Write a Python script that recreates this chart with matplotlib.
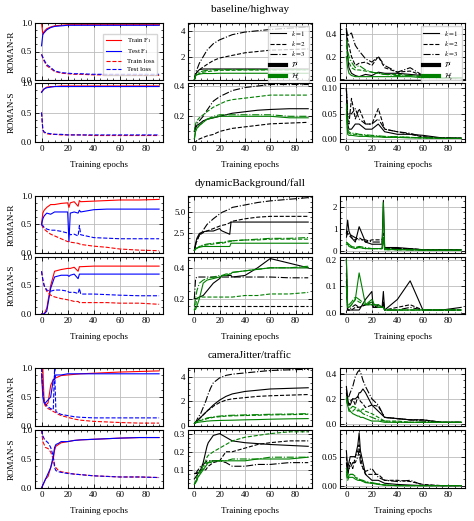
import matplotlib
matplotlib.use("Agg")
import matplotlib.pyplot as plt
from matplotlib.lines import Line2D
from matplotlib.ticker import AutoMinorLocator

plt.rcParams["font.family"] = ["Liberation Serif", "DejaVu Serif"]
plt.rcParams["mathtext.fontset"] = "stix"
plt.rcParams["font.size"] = 6.5

# ---------------- data: baseline/highway ----------------
hw_epochs = [0, 1, 2, 4, 7, 10, 15, 20, 25, 30, 40, 50, 60, 75, 90]
hw_r_f1 = [
    [1.0, 0.8, 0.85, 0.9, 0.93, 0.95, 0.96, 0.97, 0.97, 0.97, 0.97, 0.97, 0.97, 0.97, 0.97],
    [0.6, 0.8, 0.83, 0.88, 0.92, 0.94, 0.95, 0.96, 0.96, 0.96, 0.96, 0.96, 0.96, 0.96, 0.96],
    [0.45, 0.38, 0.33, 0.25, 0.2, 0.15, 0.12, 0.11, 0.1, 0.1, 0.09, 0.09, 0.09, 0.08, 0.08],
    [0.45, 0.4, 0.35, 0.27, 0.22, 0.16, 0.13, 0.12, 0.11, 0.11, 0.1, 0.1, 0.1, 0.1, 0.1],
]
hw_s_f1 = [
    [0.85, 0.88, 0.9, 0.93, 0.94, 0.94, 0.95, 0.95, 0.95, 0.95, 0.95, 0.95, 0.95, 0.95, 0.95],
    [0.84, 0.87, 0.9, 0.92, 0.93, 0.94, 0.94, 0.94, 0.94, 0.94, 0.94, 0.94, 0.94, 0.94, 0.94],
    [0.5, 0.2, 0.16, 0.14, 0.13, 0.13, 0.12, 0.12, 0.12, 0.12, 0.11, 0.11, 0.11, 0.11, 0.11],
    [0.5, 0.21, 0.17, 0.15, 0.14, 0.13, 0.13, 0.12, 0.12, 0.12, 0.12, 0.12, 0.12, 0.12, 0.12],
]
hw_r_mid = [
    [0.2, 0.6, 0.8, 1.0, 1.05, 1.05, 1.05, 1.05, 1.05, 1.05, 1.05, 1.05, 1.05, 1.05, 1.05],
    [0.2, 0.6, 0.8, 1.0, 1.2, 1.4, 1.7, 1.9, 2.0, 2.1, 2.3, 2.4, 2.5, 2.55, 2.6],
    [0.2, 0.8, 1.0, 1.5, 2.0, 2.5, 3.0, 3.3, 3.5, 3.7, 3.9, 4.0, 4.1, 4.2, 4.3],
    [0.2, 0.5, 0.6, 0.65, 0.7, 0.7, 0.7, 0.72, 0.72, 0.72, 0.72, 0.72, 0.72, 0.72, 0.72],
    [0.2, 0.5, 0.6, 0.7, 0.8, 0.85, 0.9, 0.95, 0.95, 0.95, 0.97, 0.97, 0.98, 0.98, 0.98],
    [0.2, 0.6, 0.7, 0.8, 0.9, 0.95, 1.0, 1.0, 1.0, 1.0, 1.0, 1.0, 1.0, 1.0, 1.0],
]
hw_s_mid = [
    [0.1, 0.12, 0.14, 0.15, 0.17, 0.18, 0.19, 0.2, 0.21, 0.22, 0.23, 0.24, 0.245, 0.25, 0.25],
    [0.02, 0.03, 0.04, 0.05, 0.06, 0.07, 0.08, 0.1, 0.11, 0.12, 0.13, 0.14, 0.15, 0.155, 0.16],
    [0.1, 0.14, 0.15, 0.17, 0.2, 0.24, 0.3, 0.33, 0.35, 0.37, 0.39, 0.4, 0.41, 0.41, 0.41],
    [0.05, 0.1, 0.12, 0.14, 0.16, 0.18, 0.19, 0.2, 0.2, 0.2, 0.2, 0.2, 0.2, 0.19, 0.19],
    [0.1, 0.15, 0.17, 0.19, 0.21, 0.23, 0.26, 0.28, 0.3, 0.31, 0.32, 0.33, 0.34, 0.34, 0.34],
    [0.05, 0.1, 0.12, 0.14, 0.16, 0.18, 0.2, 0.21, 0.21, 0.21, 0.21, 0.21, 0.21, 0.2, 0.2],
]
hw_r_right = [
    [0.45, 0.2, 0.1, 0.05, 0.03, 0.02, 0.04, 0.03, 0.06, 0.05, 0.05, 0.04, 0.03, 0.01, 0.01],
    [0.42, 0.35, 0.3, 0.2, 0.12, 0.14, 0.15, 0.12, 0.2, 0.1, 0.06, 0.07, 0.03, 0.01, 0.01],
    [0.45, 0.38, 0.4, 0.41, 0.3, 0.25, 0.18, 0.15, 0.2, 0.12, 0.06, 0.1, 0.03, 0.01, 0.01],
    [0.2, 0.1, 0.05, 0.03, 0.02, 0.02, 0.02, 0.02, 0.02, 0.02, 0.02, 0.02, 0.01, 0.01, 0.01],
    [0.3, 0.2, 0.15, 0.1, 0.08, 0.08, 0.07, 0.06, 0.05, 0.04, 0.04, 0.03, 0.02, 0.01, 0.01],
    [0.35, 0.25, 0.2, 0.15, 0.1, 0.12, 0.08, 0.06, 0.05, 0.04, 0.03, 0.03, 0.02, 0.01, 0.01],
]
hw_s_right = [
    [0.1, 0.03, 0.02, 0.02, 0.03, 0.03, 0.02, 0.02, 0.03, 0.015, 0.01, 0.01, 0.008, 0.003, 0.003],
    [0.1, 0.04, 0.03, 0.08, 0.04, 0.06, 0.03, 0.03, 0.06, 0.02, 0.015, 0.01, 0.005, 0.003, 0.002],
    [0.1, 0.04, 0.05, 0.05, 0.06, 0.04, 0.03, 0.03, 0.04, 0.02, 0.015, 0.012, 0.005, 0.003, 0.002],
    [0.05, 0.01, 0.008, 0.008, 0.007, 0.006, 0.006, 0.005, 0.005, 0.004, 0.004, 0.003, 0.003, 0.002, 0.002],
    [0.06, 0.015, 0.012, 0.01, 0.01, 0.009, 0.008, 0.007, 0.006, 0.005, 0.005, 0.004, 0.003, 0.002, 0.002],
    [0.07, 0.02, 0.015, 0.012, 0.012, 0.01, 0.009, 0.008, 0.007, 0.006, 0.005, 0.004, 0.003, 0.002, 0.002],
]

# ---------------- data: dynamicBackground/fall ----------------
fa_epochs = [0, 1, 2, 4, 7, 10, 15, 20, 21, 22, 25, 28, 29, 30, 40, 50, 60, 75, 90]
fa_r_f1 = [
    [0.5, 0.7, 0.75, 0.8, 0.85, 0.85, 0.87, 0.88, 0.8, 0.88, 0.9, 0.82, 0.92, 0.9, 0.91, 0.92, 0.93, 0.93, 0.94],
    [0.5, 0.6, 0.65, 0.7, 0.68, 0.72, 0.72, 0.72, 0.2, 0.7, 0.72, 0.7, 0.75, 0.72, 0.76, 0.77, 0.77, 0.77, 0.77],
    [0.5, 0.45, 0.42, 0.38, 0.33, 0.3, 0.25, 0.2, 0.2, 0.19, 0.18, 0.17, 0.16, 0.15, 0.12, 0.1, 0.07, 0.05, 0.04],
    [0.5, 0.48, 0.45, 0.42, 0.4, 0.4, 0.38, 0.35, 0.35, 0.32, 0.33, 0.3, 0.48, 0.32, 0.27, 0.26, 0.25, 0.25, 0.25],
]
fa_s_f1 = [
    [0.0, 0.0, 0.0, 0.1, 0.5, 0.75, 0.78, 0.8, 0.8, 0.8, 0.82, 0.75, 0.83, 0.83, 0.84, 0.84, 0.84, 0.84, 0.84],
    [0.0, 0.0, 0.0, 0.05, 0.45, 0.65, 0.68, 0.68, 0.66, 0.68, 0.7, 0.62, 0.7, 0.7, 0.7, 0.7, 0.7, 0.7, 0.7],
    [0.75, 0.6, 0.5, 0.4, 0.33, 0.3, 0.27, 0.25, 0.24, 0.24, 0.22, 0.22, 0.2, 0.2, 0.2, 0.2, 0.19, 0.19, 0.17],
    [0.75, 0.6, 0.5, 0.42, 0.4, 0.42, 0.42, 0.4, 0.38, 0.38, 0.38, 0.36, 0.45, 0.35, 0.35, 0.34, 0.33, 0.32, 0.32],
]
fa_r_mid = [
    [0.3, 1.2, 1.8, 2.4, 2.6, 2.7, 2.7, 3.0, 2.8, 2.7, 2.5, 2.3, 3.8, 3.8, 3.8, 3.8, 3.8, 3.8, 3.8],
    [0.3, 1.0, 1.5, 2.2, 2.5, 2.7, 3.0, 3.3, 3.4, 3.4, 3.5, 3.7, 3.8, 3.9, 4.2, 4.4, 4.5, 4.5, 4.5],
    [0.3, 1.0, 1.5, 2.2, 2.8, 3.5, 4.2, 4.8, 4.9, 5.0, 5.2, 5.4, 5.5, 5.6, 5.9, 6.2, 6.4, 6.6, 6.8],
    [0.3, 0.5, 0.6, 0.7, 0.8, 0.8, 0.8, 0.8, 0.8, 0.8, 0.8, 0.8, 1.2, 1.2, 1.2, 1.2, 1.2, 1.2, 1.2],
    [0.3, 0.5, 0.6, 0.8, 0.9, 1.0, 1.1, 1.2, 1.2, 1.2, 1.3, 1.4, 1.4, 1.5, 1.6, 1.6, 1.7, 1.7, 1.7],
    [0.3, 0.5, 0.6, 0.8, 1.0, 1.1, 1.2, 1.3, 1.3, 1.3, 1.4, 1.5, 1.5, 1.5, 1.6, 1.7, 1.8, 1.8, 1.9],
]
fa_s_mid = [
    [0.2, 0.2, 0.2, 0.21, 0.22, 0.25, 0.3, 0.33, 0.34, 0.35, 0.35, 0.35, 0.35, 0.34, 0.35, 0.4, 0.46, 0.43, 0.4],
    [0.15, 0.15, 0.15, 0.15, 0.15, 0.15, 0.15, 0.15, 0.15, 0.15, 0.15, 0.15, 0.15, 0.15, 0.15, 0.15, 0.15, 0.15, 0.15],
    [0.2, 0.33, 0.34, 0.34, 0.34, 0.34, 0.34, 0.34, 0.34, 0.34, 0.34, 0.34, 0.34, 0.34, 0.34, 0.34, 0.34, 0.335, 0.335],
    [0.13, 0.13, 0.15, 0.2, 0.3, 0.32, 0.33, 0.34, 0.34, 0.35, 0.35, 0.36, 0.36, 0.37, 0.38, 0.39, 0.4, 0.4, 0.4],
    [0.12, 0.15, 0.2, 0.21, 0.21, 0.21, 0.21, 0.21, 0.21, 0.21, 0.21, 0.21, 0.21, 0.21, 0.22, 0.22, 0.23, 0.23, 0.24],
    [0.15, 0.2, 0.25, 0.3, 0.32, 0.33, 0.34, 0.35, 0.35, 0.35, 0.36, 0.36, 0.37, 0.37, 0.38, 0.39, 0.4, 0.4, 0.41],
]
fa_r_right = [
    [0.8, 1.4, 0.9, 0.6, 0.4, 1.1, 0.4, 0.3, 0.3, 0.3, 0.3, 0.3, 2.3, 0.15, 0.15, 0.1, 0.05, 0.05, 0.05],
    [0.7, 0.8, 0.7, 0.6, 0.5, 0.6, 0.4, 0.5, 0.5, 0.5, 0.5, 0.5, 0.8, 0.1, 0.1, 0.1, 0.05, 0.05, 0.05],
    [0.6, 0.9, 0.8, 0.7, 0.6, 0.5, 0.5, 0.4, 0.4, 0.4, 0.4, 0.4, 0.6, 0.1, 0.1, 0.05, 0.05, 0.05, 0.05],
    [0.3, 0.3, 0.2, 0.15, 0.1, 0.15, 0.1, 0.1, 0.1, 0.1, 0.1, 0.1, 2.2, 0.1, 0.05, 0.05, 0.03, 0.03, 0.03],
    [0.4, 0.3, 0.25, 0.2, 0.15, 0.15, 0.1, 0.1, 0.1, 0.1, 0.1, 0.1, 0.5, 0.05, 0.05, 0.04, 0.03, 0.03, 0.03],
    [0.4, 0.35, 0.3, 0.2, 0.15, 0.2, 0.15, 0.1, 0.1, 0.1, 0.1, 0.1, 0.6, 0.05, 0.05, 0.04, 0.03, 0.03, 0.03],
]
fa_s_right = [
    [0.2, 0.01, 0.01, 0.01, 0.01, 0.01, 0.05, 0.08, 0.02, 0.02, 0.03, 0.02, 0.08, 0.01, 0.05, 0.12, 0.01, 0.01, 0.02],
    [0.15, 0.01, 0.01, 0.01, 0.02, 0.02, 0.03, 0.04, 0.02, 0.02, 0.02, 0.02, 0.04, 0.01, 0.02, 0.03, 0.01, 0.01, 0.01],
    [0.12, 0.01, 0.01, 0.02, 0.03, 0.02, 0.03, 0.03, 0.02, 0.02, 0.02, 0.02, 0.03, 0.01, 0.01, 0.02, 0.01, 0.01, 0.01],
    [0.2, 0.02, 0.02, 0.03, 0.05, 0.15, 0.03, 0.05, 0.04, 0.03, 0.03, 0.02, 0.02, 0.01, 0.01, 0.01, 0.01, 0.01, 0.01],
    [0.1, 0.02, 0.02, 0.03, 0.05, 0.04, 0.03, 0.04, 0.03, 0.03, 0.02, 0.02, 0.02, 0.01, 0.01, 0.01, 0.01, 0.01, 0.01],
    [0.1, 0.02, 0.03, 0.04, 0.06, 0.05, 0.03, 0.03, 0.03, 0.03, 0.02, 0.02, 0.02, 0.01, 0.01, 0.01, 0.01, 0.01, 0.01],
]

# ---------------- data: cameraJitter/traffic ----------------
tr_epochs = [0, 1, 2, 3, 5, 7, 9, 10, 11, 13, 15, 20, 25, 30, 40, 50, 60, 75, 90]
tr_r_f1 = [
    [1.0, 1.0, 0.4, 0.35, 0.4, 0.7, 0.8, 0.82, 0.83, 0.85, 0.87, 0.88, 0.89, 0.9, 0.91, 0.92, 0.93, 0.94, 0.95],
    [0.9, 0.5, 0.4, 0.4, 0.45, 0.5, 0.8, 0.8, 0.88, 0.88, 0.88, 0.9, 0.9, 0.9, 0.9, 0.9, 0.9, 0.9, 0.9],
    [1.0, 0.6, 0.4, 0.35, 0.3, 0.28, 0.25, 0.24, 0.23, 0.2, 0.18, 0.15, 0.12, 0.1, 0.08, 0.07, 0.06, 0.05, 0.05],
    [1.0, 0.6, 0.4, 0.38, 0.33, 0.3, 0.28, 1.0, 0.25, 0.22, 0.2, 0.18, 0.16, 0.15, 0.14, 0.14, 0.14, 0.14, 0.14],
]
tr_s_f1 = [
    [0.0, 0.05, 0.1, 0.15, 0.2, 0.35, 0.5, 0.65, 0.72, 0.75, 0.78, 0.8, 0.82, 0.83, 0.84, 0.85, 0.86, 0.87, 0.87],
    [0.0, 0.05, 0.1, 0.15, 0.25, 0.35, 0.55, 0.7, 0.75, 0.77, 0.8, 0.8, 0.82, 0.83, 0.84, 0.85, 0.86, 0.87, 0.87],
    [1.0, 0.8, 0.75, 0.7, 0.68, 0.62, 0.5, 0.4, 0.35, 0.3, 0.28, 0.26, 0.24, 0.23, 0.21, 0.2, 0.19, 0.19, 0.18],
    [1.0, 0.9, 0.85, 0.82, 0.78, 0.7, 0.55, 0.35, 0.3, 0.28, 0.27, 0.25, 0.24, 0.23, 0.21, 0.2, 0.19, 0.19, 0.18],
]
tr_r_mid = [
    [0.2, 0.3, 0.4, 0.5, 0.7, 0.9, 1.1, 1.2, 1.3, 1.5, 1.7, 2.1, 2.4, 2.6, 2.8, 2.9, 3.0, 3.05, 3.1],
    [0.2, 0.3, 0.4, 0.5, 0.7, 0.9, 1.1, 1.2, 1.3, 1.4, 1.6, 1.9, 2.1, 2.2, 2.3, 2.4, 2.45, 2.5, 2.55],
    [0.2, 0.3, 0.5, 0.7, 1.0, 1.5, 2.0, 2.3, 2.6, 3.1, 3.5, 3.9, 4.1, 4.2, 4.3, 4.4, 4.5, 4.55, 4.6],
    [0.2, 0.25, 0.28, 0.3, 0.33, 0.35, 0.38, 0.4, 0.4, 0.42, 0.43, 0.45, 0.46, 0.47, 0.5, 0.52, 0.55, 0.58, 0.6],
    [0.2, 0.3, 0.35, 0.4, 0.45, 0.5, 0.55, 0.6, 0.62, 0.65, 0.7, 0.75, 0.8, 0.82, 0.85, 0.87, 0.9, 0.92, 0.95],
    [0.2, 0.3, 0.35, 0.4, 0.5, 0.55, 0.6, 0.65, 0.67, 0.7, 0.75, 0.8, 0.85, 0.87, 0.9, 0.92, 0.95, 0.97, 1.0],
]
tr_s_mid = [
    [0.05, 0.06, 0.07, 0.08, 0.1, 0.14, 0.2, 0.23, 0.25, 0.27, 0.29, 0.3, 0.28, 0.26, 0.25, 0.245, 0.24, 0.235, 0.23],
    [0.08, 0.08, 0.08, 0.09, 0.1, 0.1, 0.1, 0.11, 0.12, 0.13, 0.14, 0.15, 0.2, 0.2, 0.22, 0.24, 0.25, 0.26, 0.26],
    [0.08, 0.08, 0.09, 0.1, 0.12, 0.13, 0.14, 0.15, 0.15, 0.15, 0.15, 0.15, 0.14, 0.12, 0.12, 0.13, 0.13, 0.14, 0.14],
    [0.02, 0.03, 0.05, 0.06, 0.08, 0.1, 0.12, 0.13, 0.14, 0.14, 0.15, 0.15, 0.15, 0.15, 0.15, 0.16, 0.16, 0.16, 0.17],
    [0.02, 0.04, 0.06, 0.08, 0.1, 0.12, 0.15, 0.17, 0.18, 0.19, 0.2, 0.22, 0.24, 0.26, 0.28, 0.29, 0.3, 0.31, 0.31],
    [0.02, 0.03, 0.04, 0.06, 0.09, 0.11, 0.13, 0.14, 0.14, 0.15, 0.15, 0.15, 0.15, 0.16, 0.16, 0.16, 0.17, 0.17, 0.17],
]
tr_r_right = [
    [0.3, 0.2, 0.15, 0.15, 0.2, 0.2, 0.22, 0.25, 0.25, 0.28, 0.25, 0.15, 0.1, 0.05, 0.04, 0.03, 0.03, 0.01, 0.01],
    [0.25, 0.15, 0.15, 0.18, 0.2, 0.15, 0.22, 0.2, 0.18, 0.16, 0.13, 0.15, 0.14, 0.05, 0.04, 0.03, 0.03, 0.01, 0.01],
    [0.28, 0.2, 0.22, 0.25, 0.3, 0.38, 0.42, 0.43, 0.42, 0.35, 0.3, 0.2, 0.15, 0.05, 0.04, 0.03, 0.02, 0.01, 0.01],
    [0.2, 0.15, 0.1, 0.1, 0.08, 0.07, 0.06, 0.06, 0.05, 0.05, 0.04, 0.02, 0.02, 0.01, 0.01, 0.01, 0.01, 0.01, 0.01],
    [0.22, 0.15, 0.12, 0.1, 0.1, 0.12, 0.1, 0.11, 0.1, 0.12, 0.1, 0.08, 0.05, 0.02, 0.02, 0.01, 0.01, 0.01, 0.01],
    [0.2, 0.15, 0.12, 0.12, 0.14, 0.13, 0.12, 0.1, 0.1, 0.08, 0.07, 0.05, 0.03, 0.02, 0.01, 0.01, 0.01, 0.01, 0.01],
]
tr_s_right = [
    [0.06, 0.03, 0.04, 0.05, 0.05, 0.05, 0.07, 0.09, 0.06, 0.04, 0.02, 0.01, 0.01, 0.005, 0.003, 0.002, 0.001, 0.001, 0.001],
    [0.05, 0.02, 0.03, 0.04, 0.03, 0.05, 0.06, 0.07, 0.05, 0.03, 0.02, 0.02, 0.02, 0.01, 0.01, 0.008, 0.003, 0.001, 0.001],
    [0.04, 0.02, 0.03, 0.03, 0.04, 0.04, 0.05, 0.06, 0.04, 0.03, 0.025, 0.03, 0.015, 0.01, 0.008, 0.01, 0.002, 0.001, 0.001],
    [0.03, 0.02, 0.015, 0.015, 0.015, 0.012, 0.01, 0.01, 0.01, 0.008, 0.006, 0.005, 0.003, 0.002, 0.001, 0.001, 0.001, 0.001, 0.001],
    [0.02, 0.01, 0.015, 0.02, 0.02, 0.015, 0.012, 0.01, 0.01, 0.009, 0.007, 0.005, 0.004, 0.002, 0.001, 0.001, 0.001, 0.001, 0.001],
    [0.025, 0.012, 0.018, 0.02, 0.02, 0.017, 0.013, 0.012, 0.011, 0.01, 0.008, 0.006, 0.004, 0.002, 0.001, 0.001, 0.001, 0.001, 0.001],
]

titles = ["baseline/highway", "dynamicBackground/fall", "cameraJitter/traffic"]

sections = [
    (hw_epochs, [hw_r_f1, hw_r_mid, hw_r_right], [hw_s_f1, hw_s_mid, hw_s_right],
     [(0, 1), (0.2, 4.6), (-0.01, 0.5)], [(0, 1), (0.03, 0.42), (-0.005, 0.11)],
     [[0, 0.5, 1], [2, 4], [0, 0.2, 0.4]], [[0, 0.5, 1], [0.2, 0.4], [0, 0.05, 0.1]]),
    (fa_epochs, [fa_r_f1, fa_r_mid, fa_r_right], [fa_s_f1, fa_s_mid, fa_s_right],
     [(0, 1), (0, 7), (-0.1, 2.5)], [(0, 1), (0.1, 0.47), (-0.005, 0.21)],
     [[0, 0.5, 1], [2.5, 5.0], [0, 1, 2]], [[0, 0.5, 1], [0.2, 0.4], [0, 0.1, 0.2]]),
    (tr_epochs, [tr_r_f1, tr_r_mid, tr_r_right], [tr_s_f1, tr_s_mid, tr_s_right],
     [(0, 1), (0, 4.7), (-0.02, 0.45)], [(0, 1), (0, 0.32), (-0.003, 0.095)],
     [[0, 0.5, 1], [0, 2, 4], [0, 0.2, 0.4]], [[0, 0.5, 1], [0.1, 0.2, 0.3], [0, 0.05]]),
]

W, H = 474, 521
col_x = [(35, 163), (188, 312), (340, 465)]
sec_rows = [((23, 80), (83, 142)), ((196, 253), (257, 314)), ((368, 426), (430, 488))]
title_y = [10, 183, 355]
xlabel_y = [163, 337, 510]

f1_styles = [("red", "-"), ("blue", "-"), ("red", "--"), ("blue", "--")]
f1_labels = ["Train F$_1$", "Test F$_1$", "Train loss", "Test loss"]
k_styles = ["-", "--", "-."]

fig = plt.figure(figsize=(W / 100, H / 100), dpi=100)


def fmt(v):
    s = "%g" % v
    return s


def style(ax, xlim, ylim, yticks, bottom):
    ax.set_xlim(-5, 93)
    ax.set_ylim(*ylim)
    ax.set_xticks([0, 20, 40, 60, 80])
    ax.set_yticks(yticks)
    if ylim == (0, 1):
        ax.set_yticklabels(["0.0", "0.5", "1.0"])
    ax.xaxis.set_minor_locator(AutoMinorLocator(4))
    ax.yaxis.set_minor_locator(AutoMinorLocator(4))
    ax.tick_params(which="both", direction="in", top=True, right=True, pad=2)
    ax.tick_params(which="major", length=3, width=0.6)
    ax.tick_params(which="minor", length=1.5, width=0.5)
    ax.grid(True, color="#bbbbbb", lw=0.6)
    ax.set_axisbelow(True)
    if not bottom:
        ax.tick_params(labelbottom=False)
    for sp in ax.spines.values():
        sp.set_linewidth(0.8)


for si, (ep, rdata, sdata, rlims, slims, rticks, sticks) in enumerate(sections):
    fig.text(0.5 * (col_x[1][0] + col_x[1][1]) / W, 1 - title_y[si] / H, titles[si],
             ha="center", va="center", fontsize=8)
    for ri, (data, lims, ticks) in enumerate([(rdata, rlims, rticks), (sdata, slims, sticks)]):
        y0, y1 = sec_rows[si][ri]
        for ci in range(3):
            x0, x1 = col_x[ci]
            ax = fig.add_axes([x0 / W, 1 - y1 / H, (x1 - x0) / W, (y1 - y0) / H])
            curves = data[ci]
            if ci == 0:
                for c, (col, ls), lab in zip(curves, f1_styles, f1_labels):
                    ax.plot(ep, c, color=col, ls=ls, lw=0.8, label=lab)
                ax.set_ylabel("ROMAN-R" if ri == 0 else "ROMAN-S", fontsize=6.5)
                if si == 0 and ri == 0:
                    ax.legend(loc="center right", fontsize=5, frameon=True, fancybox=False,
                              edgecolor="#cccccc", handlelength=2.2, borderpad=0.4,
                              labelspacing=0.3, bbox_to_anchor=(0.98, 0.45))
            else:
                for k in range(3):
                    ax.plot(ep, curves[k], color="black", ls=k_styles[k], lw=0.8)
                for k in range(3):
                    ax.plot(ep, curves[3 + k], color="green", ls=k_styles[k], lw=0.8)
                if si == 0 and ri == 0:
                    handles = [Line2D([], [], color="black", ls=s, lw=0.8) for s in k_styles]
                    handles += [Line2D([], [], color="black", lw=3),
                                Line2D([], [], color="green", lw=3)]
                    labels = ["$k=1$", "$k=2$", "$k=3$", r"$\mathcal{P}^l$", r"$\mathcal{H}^l_c$"]
                    ax.legend(handles, labels, loc="upper right", fontsize=5, frameon=True,
                              fancybox=False, edgecolor="#cccccc", handlelength=2.2,
                              borderpad=0.3, labelspacing=0.2)
            style(ax, None, lims[ci], ticks[ci], ri == 1)
            if ri == 1:
                ax.set_xlabel("Training epochs", fontsize=6.5, labelpad=6)

fig.savefig("out.png", dpi=100)
